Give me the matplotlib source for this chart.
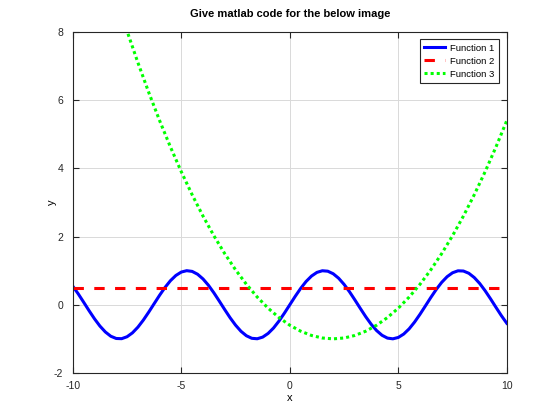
import numpy as np
import matplotlib.pyplot as plt

plt.rcParams['font.family'] = ['Liberation Sans', 'DejaVu Sans']
plt.rcParams['axes.unicode_minus'] = False

x1 = np.linspace(-10, 10, 81)
f1 = [0.544, 0.320, 0.075, -0.174, -0.412, -0.625, -0.798, -0.923, -0.989, -0.995, -0.938, -0.823,
      -0.657, -0.450, -0.215, 0.033, 0.279, 0.508, 0.706, 0.859, 0.959, 0.999, 0.978, 0.895, 0.757,
      0.572, 0.351, 0.108, -0.141, -0.382, -0.598, -0.778, -0.909, -0.984, -0.997, -0.949, -0.841,
      -0.682, -0.479, -0.247,
      0.0,
      0.247, 0.479, 0.682, 0.841, 0.949, 0.997, 0.984, 0.909, 0.778, 0.598, 0.382, 0.141, -0.108,
      -0.351, -0.572, -0.757, -0.895, -0.978, -0.999, -0.959, -0.859, -0.706, -0.508, -0.279, -0.033,
      0.215, 0.450, 0.657, 0.823, 0.938, 0.995, 0.989, 0.923, 0.798, 0.625, 0.412, 0.174, -0.075,
      -0.320, -0.544]

# Function 2 is flat
f2_x = [-10, 10]
f2 = [0.5, 0.5]

# Function 3 sampled every 0.5
x3 = np.linspace(-10, 10, 41)
f3 = [13.4, 12.225, 11.1, 10.025, 9.0, 8.025, 7.1, 6.225, 5.4, 4.625, 3.9, 3.225, 2.6, 2.025, 1.5, 1.025,
      0.6, 0.225, -0.1, -0.375, -0.6, -0.775, -0.9, -0.975, -1.0, -0.975, -0.9, -0.775, -0.6, -0.375, -0.1,
      0.225, 0.6, 1.025, 1.5, 2.025, 2.6, 3.225, 3.9, 4.625, 5.4]

fig = plt.figure(figsize=(5.6, 4.2), dpi=100)
ax = fig.add_axes([0.130, 0.112, 0.775, 0.812])

ax.plot(x1, f1, color=(0, 0, 1), lw=2.2, label='Function 1')
ax.plot(f2_x, f2, color=(1, 0, 0), lw=2.2, ls=(0, (3.4, 3.4)), label='Function 2')
ax.plot(x3, f3, color=(0, 1, 0), lw=2.2, ls=(0, (1, 1)), label='Function 3')

ax.set_xlim(-10, 10)
ax.set_ylim(-2, 8)
ax.set_xticks([-10, -5, 0, 5, 10])
ax.set_yticks([-2, 0, 2, 4, 6, 8])
ax.grid(True, color='#d9d9d9', lw=0.7)
ax.set_axisbelow(True)
ax.tick_params(direction='in', top=True, right=True, labelsize=7.5, length=4, color='#262626',
               labelcolor='#262626')
ax.tick_params(axis='x', pad=6)
ax.tick_params(axis='y', pad=7)
for s in ax.spines.values():
    s.set_color('#262626')
    s.set_linewidth(0.8)

ax.set_title('Give matlab code for the below image', fontsize=8, fontweight='bold', pad=11)
ax.set_xlabel('x', fontsize=8, labelpad=1)
ax.set_ylabel('y', fontsize=8, labelpad=-2)

leg = ax.legend(loc='upper right', fontsize=6.8, fancybox=False, edgecolor='#262626', framealpha=1,
                handlelength=2.2, handletextpad=0.5, borderpad=0.5, labelspacing=0.42,
                borderaxespad=0, bbox_to_anchor=(0.982, 0.979))
leg.get_frame().set_linewidth(0.8)

fig.savefig('out.png', dpi=100)
